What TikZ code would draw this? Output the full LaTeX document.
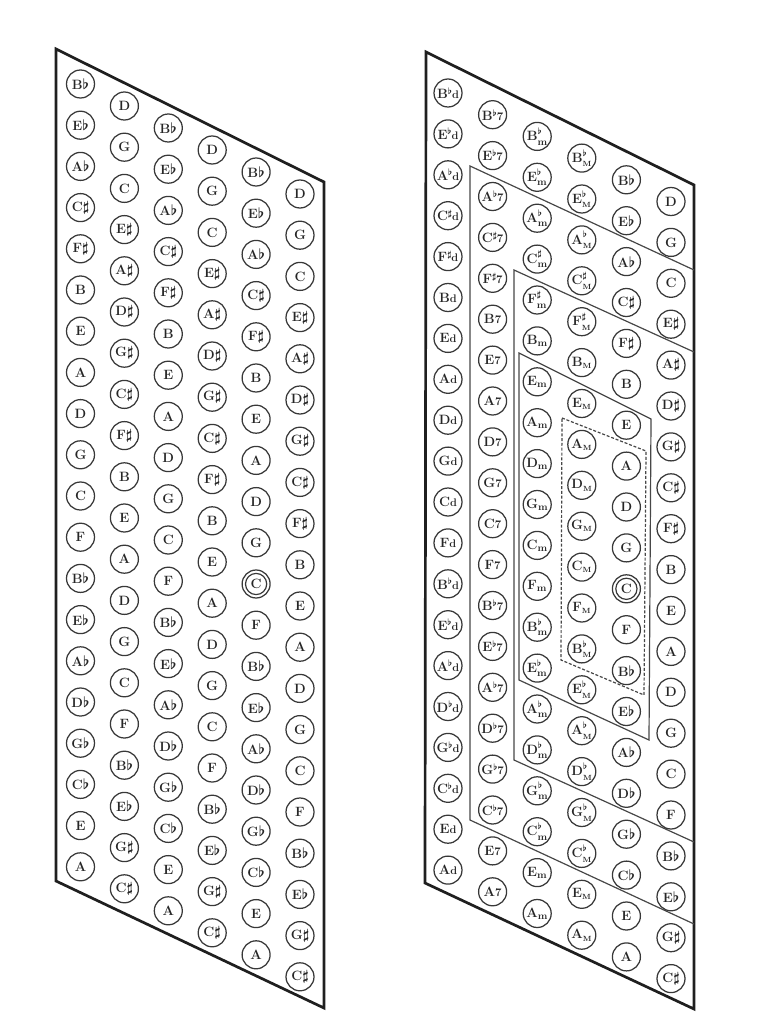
\documentclass[tikz,border=0pt]{standalone}
\newcommand\accf{\flat}
\newcommand\accs{\sharp}
\newcommand\accn{}
\def\natcode{n}
\newcommand\plainlab[2]{#1\ensuremath{\csname acc#2\endcsname}}
\newcommand\upacc[2]{\edef\tmpacc{#1}\ifx\tmpacc\natcode\else\raisebox{#2}{$\scriptstyle\csname acc#1\endcsname$}\fi}
\newcommand\dimlab[2]{#1\upacc{#2}{4.5pt}{\fontsize{11}{12}\selectfont d}}
\newcommand\sevlab[2]{#1\upacc{#2}{4pt}{\fontsize{11.5}{12}\selectfont 7}}
\newcommand\stacklab[3]{\edef\tmpacc{#2}\ifx\tmpacc\natcode
  $\mbox{#1}_{\mbox{#3}}$\else
  $\mbox{#1}^{\csname acc#2\endcsname\vphantom{X}}_{\mbox{#3}}$\fi}
\newcommand\minlab[2]{\stacklab{#1}{#2}{\fontsize{10}{11}\selectfont m}}
\newcommand\majlab[2]{\stacklab{#1}{#2}{\fontsize{7.5}{8}\selectfont M}}
\def\rootlist{B/f,E/f,A/f,C/s,F/s,B/n,E/n,A/n,D/n,G/n,C/n,F/n,B/f,E/f,A/f,D/f,G/f,C/f,E/n,A/n}
\def\cblist{D/n,G/n,C/n,E/s,A/s,D/s,G/s,C/s,F/s,B/n,E/n,A/n,D/n,G/n,C/n,F/n,B/f,E/f,G/s,C/s}
\begin{document}
\begin{tikzpicture}[x=1pt,y=-1pt,
  btn/.style={circle,draw=black!78,line width=1.25pt,minimum size=28pt,inner sep=0pt,
    text=black!85,font=\fontsize{13.5}{15}\selectfont\bfseries\boldmath},
  ring/.style={draw=black!78,line width=1.2pt},
  frame/.style={line width=2.7pt,draw=black!88},
  zone/.style={line width=1.2pt,draw=black!72},
  dzone/.style={zone,dash pattern=on 3pt off 1.8pt}]
\useasboundingbox (0,0) rectangle (768,1024);
% ---------- left keyboard ----------
\draw[frame] (56,49) -- (324,182) -- (324,1008) -- (56,881) -- cycle;
\foreach \c in {1,3,5}{
  \foreach \ltr/\acd [count=\r from 0] in \rootlist{
    \node[btn] (L-\c-\r) at ({80.5+43.9*(\c-1)},{84+22*(\c-1)+41.2*\r}) {\plainlab{\ltr}{\acd}};
  }
}
\foreach \c in {2,4,6}{
  \foreach \ltr/\acd [count=\r from 0] in \cblist{
    \node[btn] (L-\c-\r) at ({80.5+43.9*(\c-1)},{84+22*(\c-1)+41.2*\r}) {\plainlab{\ltr}{\acd}};
  }
}
\draw[ring] (L-5-10.center) circle[radius=10.6pt];
% ---------- right keyboard ----------
\draw[frame] (426,52) -- (694,185) -- (694,1009) -- (425,883) -- cycle;
\draw[zone] (694,270) -- (470,166) -- (470,820) -- (694,924);
\draw[zone] (694,352) -- (514,270) -- (514,760) -- (694,842);
\draw[zone] (519,353) -- (651,419) -- (649,740) -- (519,680) -- cycle;
\draw[dzone] (562,418) -- (646,451) -- (644,695) -- (561,660) -- cycle;
\foreach \ltr/\acd [count=\r from 0] in \rootlist{
  \node[btn] (R-1-\r) at (448,{93+40.9*\r}) {\dimlab{\ltr}{\acd}};
  \node[btn] (R-2-\r) at ({448+44.6},{93+21.7+40.9*\r}) {\sevlab{\ltr}{\acd}};
  \node[btn] (R-3-\r) at ({448+2*44.6},{93+2*21.7+40.9*\r}) {\minlab{\ltr}{\acd}};
  \node[btn] (R-4-\r) at ({448+3*44.6},{93+3*21.7+40.9*\r}) {\majlab{\ltr}{\acd}};
  \node[btn] (R-5-\r) at ({448+4*44.6},{93+4*21.7+40.9*\r}) {\plainlab{\ltr}{\acd}};
}
\foreach \ltr/\acd [count=\r from 0] in \cblist{
  \node[btn] (R-6-\r) at ({448+5*44.6},{93+5*21.7+40.9*\r}) {\plainlab{\ltr}{\acd}};
}
\draw[ring] (R-5-10.center) circle[radius=10.6pt];
\end{tikzpicture}
\end{document}
